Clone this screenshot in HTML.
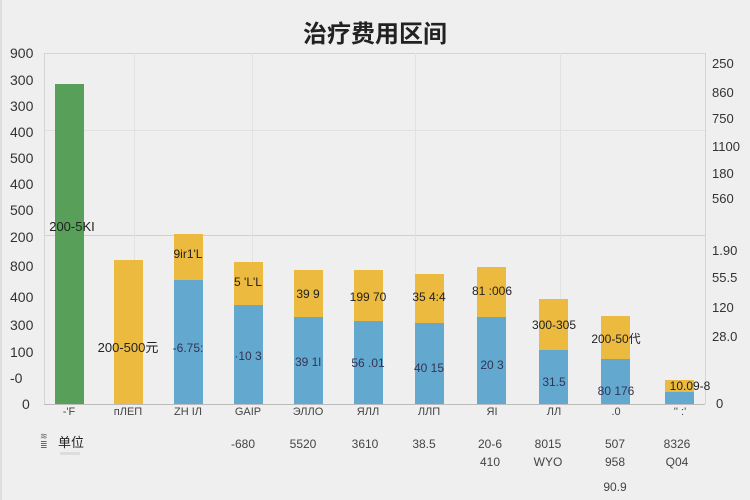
<!DOCTYPE html><html><head><meta charset="utf-8"><style>
body{margin:0;width:750px;height:500px;background:#efefef;font-family:"Liberation Sans","Noto Sans CJK SC",sans-serif;position:relative;overflow:hidden}
div{position:absolute}
.l{left:10px;width:28px;font-size:14px;color:#333;text-align:left}
.r{left:712px;font-size:13px;color:#333}
.b{width:29px}
.y{background:#ecba3e}.bl{background:#63a9cf}
.t{font-size:12px;color:#222;white-space:nowrap;transform:translateX(-50%)}
.x{font-size:11px;color:#444;top:406px;transform:translateX(-50%)}
.s{font-size:12px;color:#444;transform:translateX(-50%)}
</style></head><body>
<div style="left:0;top:0;width:750px;height:500px;border-left:2px solid #ddd;box-sizing:border-box"></div>
<div style="left:0;top:14px;width:750px;text-align:center;font-size:24px;font-weight:bold;color:#222">治疗费用区间</div>
<div style="left:44px;top:53px;width:661px;height:1px;background:#d4d4d4"></div>
<div style="left:44px;top:130px;width:661px;height:1px;background:#e0e0e0"></div>
<div style="left:44px;top:235px;width:661px;height:1px;background:#d0d0d0"></div>
<div style="left:44px;top:404px;width:661px;height:1px;background:#bbb"></div>
<div style="left:44px;top:53px;width:1px;height:351px;background:#d4d4d4"></div>
<div style="left:705px;top:53px;width:1px;height:351px;background:#d4d4d4"></div>
<div style="left:134px;top:53px;width:1px;height:351px;background:#e2e2e2"></div>
<div style="left:252px;top:53px;width:1px;height:351px;background:#e2e2e2"></div>
<div style="left:415px;top:53px;width:1px;height:351px;background:#e2e2e2"></div>
<div style="left:560px;top:53px;width:1px;height:351px;background:#e2e2e2"></div>
<div class="l" style="top:45px">900</div><div class="l" style="top:72px">300</div><div class="l" style="top:98px">300</div><div class="l" style="top:124px">400</div><div class="l" style="top:150px">500</div><div class="l" style="top:176px">400</div><div class="l" style="top:202px">500</div><div class="l" style="top:229px">200</div><div class="l" style="top:258px">800</div><div class="l" style="top:289px">400</div><div class="l" style="top:317px">300</div><div class="l" style="top:344px">100</div><div class="l" style="top:370px">-0</div><div class="l" style="top:396px;left:22px">0</div>
<div class="r" style="top:56px">250</div><div class="r" style="top:85px">860</div><div class="r" style="top:111px">750</div><div class="r" style="top:139px">1100</div><div class="r" style="top:166px">180</div><div class="r" style="top:191px">560</div><div class="r" style="top:243px">1.90</div><div class="r" style="top:270px">55.5</div><div class="r" style="top:300px">120</div><div class="r" style="top:329px">28.0</div><div class="r" style="top:396px;left:716px">0</div>
<div class="b" style="left:55px;top:84px;height:320px;background:#58a05a"></div>
<div class="b y" style="left:114px;top:260px;height:144px"></div>
<div class="b y" style="left:174px;top:234px;height:46px"></div><div class="b bl" style="left:174px;top:280px;height:124px"></div>
<div class="b y" style="left:234px;top:262px;height:43px"></div><div class="b bl" style="left:234px;top:305px;height:99px"></div>
<div class="b y" style="left:294px;top:270px;height:47px"></div><div class="b bl" style="left:294px;top:317px;height:87px"></div>
<div class="b y" style="left:354px;top:270px;height:51px"></div><div class="b bl" style="left:354px;top:321px;height:83px"></div>
<div class="b y" style="left:415px;top:274px;height:49px"></div><div class="b bl" style="left:415px;top:323px;height:81px"></div>
<div class="b y" style="left:477px;top:267px;height:50px"></div><div class="b bl" style="left:477px;top:317px;height:87px"></div>
<div class="b y" style="left:539px;top:299px;height:51px"></div><div class="b bl" style="left:539px;top:350px;height:54px"></div>
<div class="b y" style="left:601px;top:316px;height:43px"></div><div class="b bl" style="left:601px;top:359px;height:45px"></div>
<div class="b y" style="left:665px;top:380px;height:12px"></div><div class="b bl" style="left:665px;top:392px;height:12px"></div>
<div class="t" style="left:72px;top:219px;font-size:13px">200-5KI</div>
<div class="t" style="left:128px;top:337px;font-size:13px">200-500元</div>
<div class="t" style="left:188px;top:247px">9ir1'L</div><div class="t" style="left:188px;top:341px;color:#335">-6.75:</div>
<div class="t" style="left:248px;top:275px">5 'L'L</div><div class="t" style="left:248px;top:349px;color:#335">·10 3</div>
<div class="t" style="left:308px;top:287px">39 9</div><div class="t" style="left:308px;top:355px;color:#335">39 1l</div>
<div class="t" style="left:368px;top:290px">199 70</div><div class="t" style="left:368px;top:356px;color:#335">56 .01</div>
<div class="t" style="left:429px;top:290px">35 4:4</div><div class="t" style="left:429px;top:361px;color:#335">40 15</div>
<div class="t" style="left:492px;top:284px">81 :006</div><div class="t" style="left:492px;top:358px;color:#335">20 3</div>
<div class="t" style="left:554px;top:318px">300-305</div><div class="t" style="left:554px;top:375px;color:#335">31.5</div>
<div class="t" style="left:616px;top:330px">200-50代</div><div class="t" style="left:616px;top:384px;color:#335">80 176</div>
<div class="t" style="left:690px;top:379px">10.09-8</div>
<div class="x" style="left:69px">-'F</div><div class="x" style="left:128px">пЛЕП</div><div class="x" style="left:188px">ZH ІЛ</div><div class="x" style="left:248px">GAIP</div><div class="x" style="left:308px">ЭЛЛО</div><div class="x" style="left:368px">ЯЛЛ</div><div class="x" style="left:429px">ЛЛП</div><div class="x" style="left:492px">ЯI</div><div class="x" style="left:554px">ЛЛ</div><div class="x" style="left:616px">.0</div><div class="x" style="left:680px">'' :'</div>
<div style="left:40px;top:432px;font-size:9px;color:#666;line-height:9px">≋<br>≣</div>
<div style="left:58px;top:432px;font-size:13px;color:#222">单位</div>
<div style="left:60px;top:452px;width:20px;height:3px;background:#ddd"></div>
<div class="s" style="left:243px;top:437px">-680</div><div class="s" style="left:303px;top:437px">5520</div><div class="s" style="left:365px;top:437px">3610</div><div class="s" style="left:424px;top:437px">38.5</div>
<div class="s" style="left:490px;top:437px">20-6</div><div class="s" style="left:490px;top:455px">410</div>
<div class="s" style="left:548px;top:437px">8015</div><div class="s" style="left:548px;top:455px">WYO</div>
<div class="s" style="left:615px;top:437px">507</div><div class="s" style="left:615px;top:455px">958</div><div class="s" style="left:615px;top:480px">90.9</div>
<div class="s" style="left:677px;top:437px">8326</div><div class="s" style="left:677px;top:455px">Q04</div>
</body></html>
